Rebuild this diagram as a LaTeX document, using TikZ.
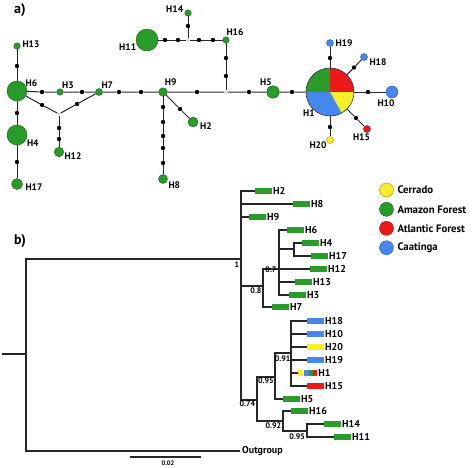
\documentclass[tikz,border=0pt]{standalone}
\usepackage{fontspec}
\setmainfont{PT Sans}
\definecolor{grn}{RGB}{40,155,40}
\definecolor{grnd}{RGB}{20,95,20}
\definecolor{blu}{RGB}{70,135,235}
\definecolor{blud}{RGB}{40,90,170}
\definecolor{rd}{RGB}{235,25,25}
\definecolor{rdd}{RGB}{150,10,10}
\definecolor{yel}{RGB}{245,240,40}
\definecolor{yeld}{RGB}{150,140,20}
\begin{document}
\begin{tikzpicture}[x=1pt,y=-1pt,
  edge/.style={draw=black!85, line width=1pt},
  hap/.style={circle, inner sep=0pt, minimum size=#1, draw=grnd, line width=0.4pt, fill=grn},
  dotnode/.style={circle, fill=black, inner sep=0pt, minimum size=4.4pt},
  med/.style={circle, fill=black!18, inner sep=0pt, minimum size=3.5pt},
  nlab/.style={font=\bfseries\fontsize{9.5}{10}\selectfont, inner sep=0pt},
  tree/.style={draw=black!85, line width=1.2pt},
  bar/.style={rectangle, inner sep=0pt, minimum width=16.5pt, minimum height=5.2pt, anchor=west, fill=grn},
  tl/.style={font=\bfseries\fontsize{10}{11}\selectfont, inner sep=1pt, anchor=west},
  bs/.style={font=\bfseries\fontsize{8}{9}\selectfont, inner sep=0pt},
  leg/.style={font=\bfseries\fontsize{10.8}{12}\selectfont, inner sep=0pt, anchor=west},
  panel/.style={font=\bfseries\fontsize{14}{16}\selectfont, inner sep=0pt}]
\useasboundingbox (0,0) rectangle (474,467);

% ---------- panel labels ----------
\node[panel] (pa) at (20,10) {a)};
\node[panel] (pb) at (20,241) {b)};

% ---------- network: H1 pie ----------
\coordinate (c1) at (330,92);
\fill[grn] (c1) -- ++(90:24pt) arc[start angle=90, end angle=180, radius=24pt] -- cycle;
\fill[rd] (c1) -- ++(0:24pt) arc[start angle=0, end angle=90, radius=24pt] -- cycle;
\fill[yel] (c1) -- ++(-61:24pt) arc[start angle=-61, end angle=0, radius=24pt] -- cycle;
\fill[blu] (c1) -- ++(180:24pt) arc[start angle=180, end angle=299, radius=24pt] -- cycle;
\node[circle, draw=black!80, line width=0.6pt, minimum size=48pt, inner sep=0pt] (H1) at (c1) {};

% ---------- network: haplotypes ----------
\node[hap=20pt] (H6) at (17,91) {};
\node[hap=6.5pt] (H13) at (17,46) {};
\node[hap=20pt] (H4) at (17,135) {};
\node[hap=11pt] (H17) at (17,184) {};
\node[hap=6.5pt] (H3) at (60,92) {};
\node[hap=7pt] (H7) at (99,92) {};
\node[hap=8.5pt] (H9) at (163,92) {};
\node[hap=9.5pt] (H12) at (59,152) {};
\node[hap=9pt] (H8) at (163,179) {};
\node[hap=10pt] (H2) at (193,122) {};
\node[hap=6.5pt] (H16) at (226,40) {};
\node[hap=22pt] (H11) at (147,40) {};
\node[hap=6.5pt] (H14) at (188,13) {};
\node[hap=12.5pt] (H5) at (273,92) {};
\node[hap=7pt, fill=blu, draw=blud] (H19) at (330,43) {};
\node[hap=7pt, fill=blu, draw=blud] (H18) at (364,57) {};
\node[hap=12pt, fill=blu, draw=blud] (H10) at (392,92) {};
\node[hap=7pt, fill=rd, draw=rdd] (H15) at (367,129) {};
\node[hap=7pt, fill=yel, draw=yeld] (H20) at (330,140) {};

% medians
\node[med] (m1) at (59,114) {};
\node[med] (m2) at (226,92) {};
\node[med] (m3) at (188,40) {};

% mutation dots
\node[dotnode] (d1) at (17,66) {};
\node[dotnode] (d2) at (17,113) {};
\node[dotnode] (d3) at (17,162) {};
\node[dotnode] (d4) at (42,92) {};
\node[dotnode] (d5) at (82,92) {};
\node[dotnode] (d6) at (119,92) {};
\node[dotnode] (d7) at (141,92) {};
\node[dotnode] (d8) at (197,92) {};
\node[dotnode] (d9) at (249,92) {};
\node[dotnode] (d10) at (292,92) {};
\node[dotnode] (d11) at (42,105) {};
\node[dotnode] (d12) at (77,104) {};
\node[dotnode] (d13) at (59,128) {};
\node[dotnode] (d14) at (59,139) {};
\node[dotnode] (d15) at (163,107) {};
\node[dotnode] (d16) at (163,122) {};
\node[dotnode] (d17) at (163,136) {};
\node[dotnode] (d18) at (163,148) {};
\node[dotnode] (d19) at (163,163) {};
\node[dotnode] (d20) at (180,109) {};
\node[dotnode] (d21) at (226,76) {};
\node[dotnode] (d22) at (226,58) {};
\node[dotnode] (d23) at (213,40) {};
\node[dotnode] (d24) at (199,40) {};
\node[dotnode] (d25) at (178,40) {};
\node[dotnode] (d26) at (165,40) {};
\node[dotnode] (d27) at (188,26) {};
\node[dotnode] (d28) at (330,58) {};
\node[dotnode] (d29) at (354,67.5) {};
\node[dotnode] (d30) at (368,92) {};
\node[dotnode] (d31) at (356,118) {};
\node[dotnode] (d32) at (330,127) {};

% network edges
\draw[edge] (H13) -- (d1) -- (H6) -- (d2) -- (H4) -- (d3) -- (H17);
\draw[edge] (H6) -- (d4) -- (H3) -- (d5) -- (H7) -- (d6) -- (d7) -- (H9) -- (d8) -- (m2) -- (d9) -- (H5) -- (d10) -- (H1);
\draw[edge] (H6) -- (d11) -- (m1) -- (d12) -- (H7);
\draw[edge] (m1) -- (d13) -- (d14) -- (H12);
\draw[edge] (H9) -- (d15) -- (d16) -- (d17) -- (d18) -- (d19) -- (H8);
\draw[edge] (H9) -- (d20) -- (H2);
\draw[edge] (m2) -- (d21) -- (d22) -- (H16) -- (d23) -- (d24) -- (m3) -- (d25) -- (d26) -- (H11);
\draw[edge] (m3) -- (d27) -- (H14);
\draw[edge] (H1) -- (d28) -- (H19);
\draw[edge] (H1) -- (d29) -- (H18);
\draw[edge] (H1) -- (d30) -- (H10);
\draw[edge] (H1) -- (d31) -- (H15);
\draw[edge] (H1) -- (d32) -- (H20);

% network labels
\node[nlab] (lH13) at (31,44.5) {H13};
\node[nlab] (lH6) at (31.5,82.7) {H6};
\node[nlab] (lH3) at (68,85.5) {H3};
\node[nlab] (lH7) at (107.3,85) {H7};
\node[nlab] (lH9) at (170.7,82.5) {H9};
\node[nlab] (lH2) at (206,126) {H2};
\node[nlab] (lH8) at (174.3,184.7) {H8};
\node[nlab] (lH12) at (73,156.5) {H12};
\node[nlab] (lH4) at (32.8,143) {H4};
\node[nlab] (lH17) at (34,187) {H17};
\node[nlab] (lH11) at (127.7,46.7) {H11};
\node[nlab] (lH14) at (174.7,9.2) {H14};
\node[nlab] (lH16) at (235,32) {H16};
\node[nlab] (lH5) at (266,82) {H5};
\node[nlab] (lH1) at (309,113) {H1};
\node[nlab] (lH19) at (344,43) {H19};
\node[nlab] (lH18) at (378,62) {H18};
\node[nlab] (lH10) at (386,103) {H10};
\node[nlab] (lH15) at (361.5,137) {H15};
\node[nlab] (lH20) at (318,145) {H20};

% ---------- legend ----------
\node[hap=14pt, fill=yel, draw=yeld] (lc1) at (386.5,190) {};
\node[hap=14pt] (lc2) at (386.5,209.3) {};
\node[hap=14pt, fill=rd, draw=rdd] (lc3) at (386.5,228.3) {};
\node[hap=14pt, fill=blu, draw=blud] (lc4) at (386.5,247.7) {};
\node[leg] (lt1) at (397.3,190) {Cerrado};
\node[leg] (lt2) at (397.3,209.3) {Amazon Forest};
\node[leg] (lt3) at (397.3,228.3) {Atlantic Forest};
\node[leg] (lt4) at (397.3,247.7) {Caatinga};

% ---------- tree: internal nodes ----------
\coordinate (stub) at (2,354);
\coordinate (R) at (26,354);
\coordinate (A) at (241,259);
\coordinate (B) at (263,286);
\coordinate (C) at (279,269);
\coordinate (D) at (294,249);
\coordinate (N74) at (257,400);
\coordinate (E) at (275,377);
\coordinate (G) at (291,353);
\coordinate (F) at (283,421);
\coordinate (Hn) at (307,431);
\coordinate (out) at (240,451);

% tip bars
\node[bar] (bH2) at (255,191) {};
\node[bar] (bH8) at (293,204) {};
\node[bar] (bH9) at (249,217) {};
\node[bar] (bH6) at (287,230) {};
\node[bar] (bH4) at (302,243) {};
\node[bar] (bH17) at (311,256) {};
\node[bar] (bH12) at (310,269) {};
\node[bar] (bH13) at (295,282) {};
\node[bar] (bH3) at (289,295) {};
\node[bar] (bH7) at (272,307) {};
\node[bar, fill=blu] (bH18) at (307,321) {};
\node[bar, fill=blu] (bH10) at (307,334) {};
\node[bar, fill=yel] (bH20) at (307,347) {};
\node[bar, fill=blu] (bH19) at (307,360) {};
\node[bar, fill=yel, minimum width=5pt] (bH1) at (298,373) {};
\node[bar, fill=blu, minimum width=5pt] (bH1b) at (bH1.east) {};
\node[bar, fill=grn, minimum width=4pt] (bH1c) at (bH1b.east) {};
\node[bar, fill=rd, minimum width=3.5pt] (bH1d) at (bH1c.east) {};
\node[bar, fill=rd] (bH15) at (307,386) {};
\node[bar] (bH5) at (283,399) {};
\node[bar] (bH16) at (291,411) {};
\node[bar] (bH14) at (324,424) {};
\node[bar] (bH11) at (334,437) {};

% tree branches
\draw[tree] (stub) -- (R);
\draw[tree] (R) |- (A);
\draw[tree] (R) |- (out);
\draw[tree] (A) |- (bH2.west);
\draw[tree] (A) |- (bH8.west);
\draw[tree] (A) |- (bH9.west);
\draw[tree] (A) |- (B);
\draw[tree] (A) |- (N74);
\draw[tree] (B) |- (C);
\draw[tree] (B) |- (bH7.west);
\draw[tree] (C) |- (bH6.west);
\draw[tree] (C) |- (D);
\draw[tree] (C) |- (bH12.west);
\draw[tree] (C) |- (bH13.west);
\draw[tree] (C) |- (bH3.west);
\draw[tree] (D) |- (bH4.west);
\draw[tree] (D) |- (bH17.west);
\draw[tree] (N74) |- (E);
\draw[tree] (N74) |- (F);
\draw[tree] (E) |- (G);
\draw[tree] (E) |- (bH5.west);
\draw[tree] (G) |- (bH18.west);
\draw[tree] (G) |- (bH10.west);
\draw[tree] (G) |- (bH20.west);
\draw[tree] (G) |- (bH19.west);
\draw[tree] (G) |- (bH1.west);
\draw[tree] (G) |- (bH15.west);
\draw[tree] (F) |- (bH16.west);
\draw[tree] (F) |- (Hn);
\draw[tree] (Hn) |- (bH14.west);
\draw[tree] (Hn) |- (bH11.west);

% tip labels
\node[tl] (tH2) at (bH2.east) {H2};
\node[tl] (tH8) at (bH8.east) {H8};
\node[tl] (tH9) at (bH9.east) {H9};
\node[tl] (tH6) at (bH6.east) {H6};
\node[tl] (tH4) at (bH4.east) {H4};
\node[tl] (tH17) at (bH17.east) {H17};
\node[tl] (tH12) at (bH12.east) {H12};
\node[tl] (tH13) at (bH13.east) {H13};
\node[tl] (tH3) at (bH3.east) {H3};
\node[tl] (tH7) at (bH7.east) {H7};
\node[tl] (tH18) at (bH18.east) {H18};
\node[tl] (tH10) at (bH10.east) {H10};
\node[tl] (tH20) at (bH20.east) {H20};
\node[tl] (tH19) at (bH19.east) {H19};
\node[tl] (tH1) at (bH1d.east) {H1};
\node[tl] (tH15) at (bH15.east) {H15};
\node[tl] (tH5) at (bH5.east) {H5};
\node[tl] (tH16) at (bH16.east) {H16};
\node[tl] (tH14) at (bH14.east) {H14};
\node[tl] (tH11) at (bH11.east) {H11};
\node[tl] (tOut) at (241,451) {Outgroup};

% support values
\node[bs] (s1) at (237,265) {1};
\node[bs] (s07) at (271,269.7) {0.7};
\node[bs] (s08) at (256,290.7) {0.8};
\node[bs] (s091) at (282.7,358.7) {0.91};
\node[bs] (s095a) at (265.8,380.3) {0.95};
\node[bs] (s074) at (247.3,403.3) {0.74};
\node[bs] (s092) at (273.3,426) {0.92};
\node[bs] (s095b) at (297.2,436.3) {0.95};

% scale bar
\coordinate (sc1) at (130,457);
\coordinate (sc2) at (201,457);
\draw[tree] (sc1) -- (sc2);
\node[bs, font=\bfseries\fontsize{6.5}{7}\selectfont] (sclab) at (168,463.5) {0.02};
\end{tikzpicture}
\end{document}
